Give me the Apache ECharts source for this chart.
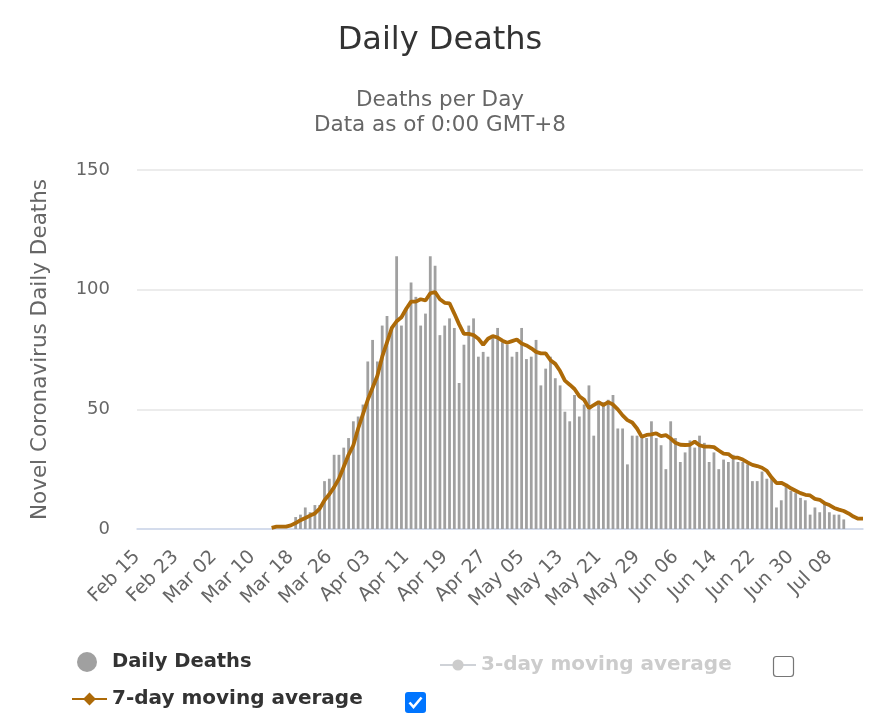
<!DOCTYPE html>
<html>
<head>
<meta charset="utf-8">
<script src="https://cdn.jsdelivr.net/npm/echarts@6/dist/echarts.min.js"></script>
<style>
html,body{margin:0;padding:0;background:#fff;}
#chart{width:894px;height:728px;}
</style>
</head>
<body>
<div id="chart"></div>
<script>
// Categories: one per day, Feb 15 .. Jul 15
var dates = [
 'Feb 15','Feb 16','Feb 17','Feb 18','Feb 19','Feb 20','Feb 21','Feb 22','Feb 23','Feb 24','Feb 25','Feb 26','Feb 27','Feb 28','Feb 29',
 'Mar 01','Mar 02','Mar 03','Mar 04','Mar 05','Mar 06','Mar 07','Mar 08','Mar 09','Mar 10','Mar 11','Mar 12','Mar 13','Mar 14','Mar 15','Mar 16','Mar 17','Mar 18','Mar 19','Mar 20','Mar 21','Mar 22','Mar 23','Mar 24','Mar 25','Mar 26','Mar 27','Mar 28','Mar 29','Mar 30','Mar 31',
 'Apr 01','Apr 02','Apr 03','Apr 04','Apr 05','Apr 06','Apr 07','Apr 08','Apr 09','Apr 10','Apr 11','Apr 12','Apr 13','Apr 14','Apr 15','Apr 16','Apr 17','Apr 18','Apr 19','Apr 20','Apr 21','Apr 22','Apr 23','Apr 24','Apr 25','Apr 26','Apr 27','Apr 28','Apr 29','Apr 30',
 'May 01','May 02','May 03','May 04','May 05','May 06','May 07','May 08','May 09','May 10','May 11','May 12','May 13','May 14','May 15','May 16','May 17','May 18','May 19','May 20','May 21','May 22','May 23','May 24','May 25','May 26','May 27','May 28','May 29','May 30','May 31',
 'Jun 01','Jun 02','Jun 03','Jun 04','Jun 05','Jun 06','Jun 07','Jun 08','Jun 09','Jun 10','Jun 11','Jun 12','Jun 13','Jun 14','Jun 15','Jun 16','Jun 17','Jun 18','Jun 19','Jun 20','Jun 21','Jun 22','Jun 23','Jun 24','Jun 25','Jun 26','Jun 27','Jun 28','Jun 29','Jun 30',
 'Jul 01','Jul 02','Jul 03','Jul 04','Jul 05','Jul 06','Jul 07','Jul 08','Jul 09','Jul 10','Jul 11','Jul 12','Jul 13','Jul 14','Jul 15'
];

// Daily deaths, Mar 19 .. Jul 11
var dailyDeathsFirstDate = 'Mar 19';
var dailyDeathsValues = [
 5,6,9,7,10,10,20,21,31,31,
 34,38,45,47,52,70,79,70,85,89,
 84,114,85,92,103,97,85,90,114,110,
 81,85,88,84,61,77,85,88,72,74,
 72,81,84,78,77,72,74,84,71,72,
 79,60,67,72,63,60,49,45,56,47,
 52,60,39,53,53,54,56,42,42,27,
 39,39,39,38,45,38,35,25,45,38,
 28,32,37,34,39,36,28,32,25,29,
 28,31,28,28,27,20,20,24,21,21,
 9,12,18,16,15,13,12,6,9,7,
 11,7,6,6,4
];

// 7-day moving average, Mar 14 .. Jul 15
var avg7FirstDate = 'Mar 14';
var avg7Values = [
 0.5,1,1,1,1.5,2.5,3.7,4.6,5.6,6.5,
 8.5,12,14.5,17.5,21,26,31,35,42,48,
 54,59,64,72,78,84,86.8,88.5,92,95,
 95,96,95.5,98.5,99,96,94.5,94.3,90,85.5,
 81.5,81.5,81,79.5,77,79.5,80.6,80,78.7,77.8,
 78.5,79.2,77.5,76.7,75.5,74,73.4,73.4,70.5,69,
 66,62,60.3,58.5,55.5,54,50.5,51.8,53,51.8,
 53,52,50,47.5,45.5,44.5,42,38.5,39.3,39.5,
 40,38.8,39.2,37.8,36,35.2,35.1,35.2,36.5,35,
 34.4,34.4,34.2,32.8,31.5,31.3,29.8,29.8,29,27.8,
 26.8,26.3,25.6,24.3,21.5,19.2,19.3,18.3,17,16,
 15,14.3,14,12.6,12.2,10.8,10,8.8,8.1,7.5,
 6.5,5.2,4.3,4.3
];

var yTicks = [0, 50, 100, 150];
var titleText = 'Daily Deaths';
var subtitleLines = ['Deaths per Day', 'Data as of 0:00 GMT+8'];

function placeOnDates(firstDate, values) {
  var out = dates.map(function () { return null; });
  var start = dates.indexOf(firstDate);
  values.forEach(function (v, i) { out[start + i] = v; });
  return out;
}

var chart = echarts.init(document.getElementById('chart'), null, {renderer: 'canvas'});
var FONT = '"DejaVu Sans", "Liberation Sans", sans-serif';
var barColor = '#a0a0a0';
var lineColor = '#ad6a08';

chart.setOption({
  animation: false,
  backgroundColor: '#fff',
  textStyle: {fontFamily: FONT},
  grid: {left: 137, right: 31, top: 170, bottom: 199},
  xAxis: {
    type: 'category',
    data: dates,
    boundaryGap: false,
    axisLine: {lineStyle: {color: '#ccd6eb', width: 1.5}},
    axisTick: {show: false},
    axisLabel: {interval: 7, rotate: 45, fontSize: 19, color: '#666', margin: 25, fontFamily: FONT},
    splitLine: {show: false}
  },
  yAxis: {
    type: 'value',
    min: yTicks[0], max: yTicks[yTicks.length - 1], interval: 50,
    name: 'Novel Coronavirus Daily Deaths',
    nameLocation: 'middle',
    nameGap: 86,
    nameTextStyle: {fontSize: 21.5, color: '#666', fontFamily: FONT},
    axisLine: {show: false},
    axisTick: {show: false},
    axisLabel: {fontSize: 18, color: '#666', margin: 27, fontFamily: FONT},
    splitLine: {lineStyle: {color: '#e6e6e6', width: 1.5}}
  },
  legend: [
    {data: [{name: 'Daily Deaths', icon: 'circle'}], left: 72, top: 647, itemWidth: 40, itemHeight: 20,
     textStyle: {fontSize: 19.5, fontWeight: 'bold', color: '#333', fontFamily: FONT}},
    {data: ['3-day moving average'], left: 434, top: 650, itemWidth: 36, itemHeight: 14,
     selected: {'3-day moving average': false},
     inactiveColor: '#cccccc',
     textStyle: {fontSize: 20, fontWeight: 'bold', color: '#333', fontFamily: FONT}},
    {data: ['7-day moving average'], left: 66, top: 684, itemWidth: 35, itemHeight: 16,
     textStyle: {fontSize: 20, fontWeight: 'bold', color: '#333', fontFamily: FONT}}
  ],
  series: [
    {name: 'Daily Deaths', type: 'bar', data: placeOnDates(dailyDeathsFirstDate, dailyDeathsValues),
     barWidth: '58%', itemStyle: {color: barColor}, z: 2},
    {name: '3-day moving average', type: 'line', data: [], symbol: 'circle', symbolSize: 8,
     itemStyle: {color: '#cccccc'}, lineStyle: {color: '#cccccc', width: 3}},
    {name: '7-day moving average', type: 'line', data: placeOnDates(avg7FirstDate, avg7Values),
     symbol: 'diamond', symbolSize: 12, showSymbol: false, connectNulls: false,
     itemStyle: {color: lineColor}, lineStyle: {color: lineColor, width: 3.8}, z: 3}
  ],
  graphic: [
    {type: 'text', x: 440, y: 41,
     style: {text: titleText, fill: '#333', font: '32px ' + FONT, textAlign: 'center', textVerticalAlign: 'middle'}},
    {type: 'text', x: 440, y: 100,
     style: {text: subtitleLines[0], fill: '#666', font: '21.5px ' + FONT, textAlign: 'center', textVerticalAlign: 'middle'}},
    {type: 'text', x: 440, y: 125,
     style: {text: subtitleLines[1], fill: '#666', font: '21.5px ' + FONT, textAlign: 'center', textVerticalAlign: 'middle'}},
    {type: 'rect', shape: {x: 773.5, y: 656.5, width: 20, height: 20, r: 3},
     style: {fill: '#fff', stroke: '#767676', lineWidth: 1.2}},
    {type: 'rect', shape: {x: 405, y: 692, width: 21, height: 21, r: 3},
     style: {fill: '#0075ff'}},
    {type: 'polyline', shape: {points: [[409.5, 702.5], [413.5, 707], [421.5, 697.5]]},
     style: {stroke: '#fff', lineWidth: 2.6, fill: null}}
  ]
});
</script>
</body>
</html>
